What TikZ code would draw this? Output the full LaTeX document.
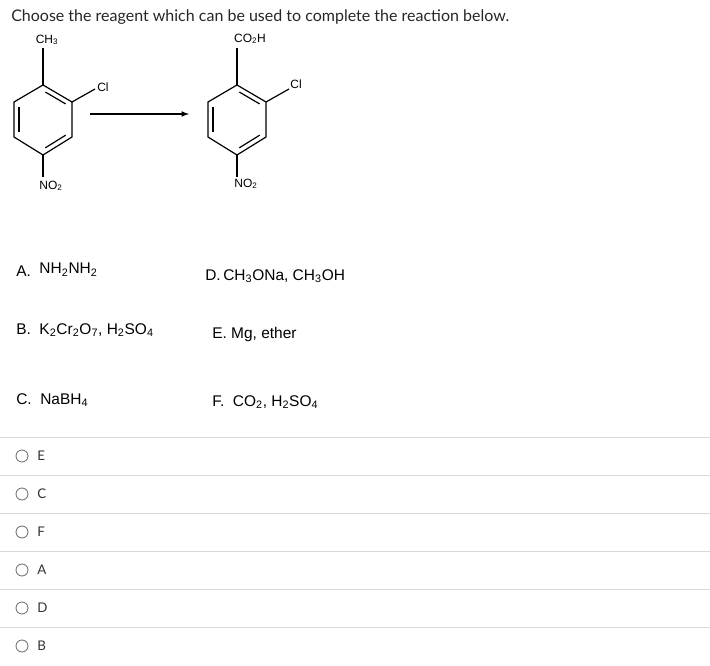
\documentclass[tikz,border=0pt]{standalone}
\usepackage{fontspec}
\usetikzlibrary{calc}
\setmainfont{Liberation Sans}
\newfontfamily\lato{Lato}
\newcommand{\sbs}[1]{\textsubscript{#1}}
\begin{document}
\begin{tikzpicture}[x=0.75pt,y=-0.75pt,
  bond/.style={line width=0.9pt},
  chem/.style={font=\fontsize{9}{10}\selectfont,inner sep=0.5pt},
  opt/.style={font=\fontsize{11.6}{13}\selectfont,anchor=west,inner sep=0},
  rlab/.style={font=\lato\fontsize{10}{12}\selectfont,anchor=west,inner sep=0,text=black!80},
  radio/.style={circle,draw=black!60,line width=0.6pt,minimum size=9pt,inner sep=0},
  sep/.style={draw=black!15,line width=0.6pt}]
\useasboundingbox (0,0) rectangle (710,666);
\node[anchor=west,font=\lato\fontsize{12}{14}\selectfont,text=black!85,inner sep=0] (title) at (11,17) {Choose the reagent which can be used to complete the reaction below.};
% rings
\foreach \cx/\nm in {43/L,237/R}{
  \coordinate (\nm1) at (\cx,85);
  \coordinate (\nm2) at (\cx+29,102);
  \coordinate (\nm3) at (\cx+29,137);
  \coordinate (\nm4) at (\cx,155);
  \coordinate (\nm5) at (\cx-29,137);
  \coordinate (\nm6) at (\cx-29,102);
  \draw[bond] (\nm1)--(\nm2)--(\nm3)--(\nm4)--(\nm5)--(\nm6)--cycle;
  \draw[bond] ($(\nm1)!0.15!(\nm2)+(-2,4.5)$)--($(\nm1)!0.85!(\nm2)+(-2,4.5)$);
  \draw[bond] ($(\nm3)!0.15!(\nm4)+(-2,-4.5)$)--($(\nm3)!0.85!(\nm4)+(-2,-4.5)$);
  \draw[bond] ($(\nm5)!0.15!(\nm6)+(5,0)$)--($(\nm5)!0.85!(\nm6)+(5,0)$);
  \coordinate (\nm t) at (\cx,48);
  \coordinate (\nm c) at (\cx+52,89);
  \coordinate (\nm b) at (\cx,177);
  \draw[bond] (\nm1)--(\nm t);
  \draw[bond] (\nm2)--(\nm c);
  \draw[bond] (\nm4)--(\nm b);
}
\node[chem] (ch3) at (47,40) {CH\sbs{3}};
\node[chem] (cl1) at (103,87) {Cl};
\node[chem] (no1) at (51,186) {NO\sbs{2}};
\node[chem] (co2h) at (250,39) {CO\sbs{2}H};
\node[chem] (cl2) at (296,84) {Cl};
\node[chem] (no2) at (246,184) {NO\sbs{2}};
\coordinate (a1) at (90,114);
\coordinate (a2) at (189,114);
\draw[bond,-latex] (a1)--(a2);
% options
\node[opt] (oa) at (16,270) {A.\ \ \raisebox{2pt}{NH\sbs{2}NH\sbs{2}}};
\node[opt] (ob) at (16,330) {B.\ \ K\sbs{2}Cr\sbs{2}O\sbs{7}, H\sbs{2}SO\sbs{4}};
\node[opt] (oc) at (16,400) {C.\ \ NaBH\sbs{4}};
\node[opt] (od) at (205,276) {D.\,CH\sbs{3}ONa, CH\sbs{3}OH};
\node[opt] (oe) at (212,335) {E. Mg, ether};
\node[opt] (of) at (212,402) {F.\ \ CO\sbs{2}, H\sbs{2}SO\sbs{4}};
% radio list
\foreach \y in {437,475,513,551,589,627}{\draw[sep] (0,\y)--(710,\y);}
\foreach \l [count=\i] in {E,C,F,A,D,B}{
  \node[radio] (r\i) at (22,418+38*\i) {};
  \node[rlab] (l\i) at (37,418+38*\i) {\l};
}
\end{tikzpicture}
\end{document}
